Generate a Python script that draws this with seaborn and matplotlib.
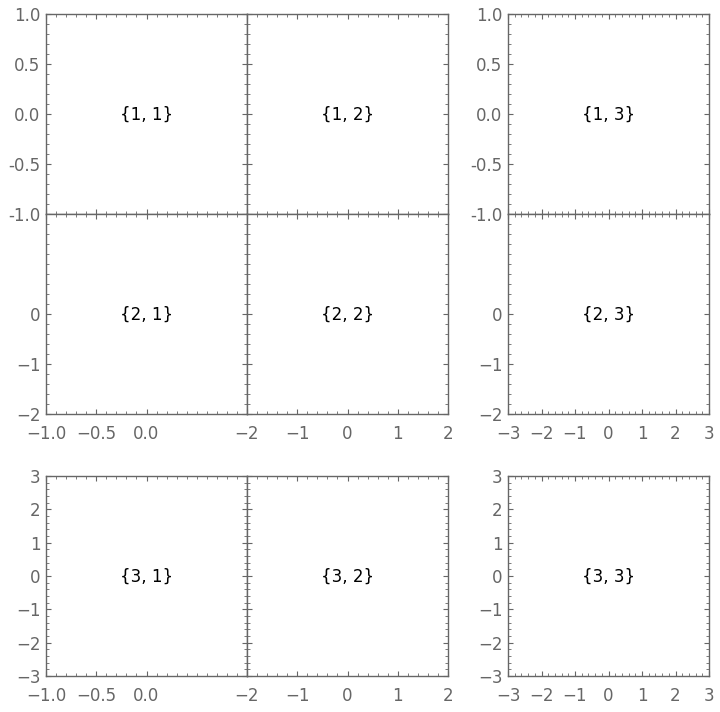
import matplotlib
matplotlib.use("Agg")
import matplotlib.pyplot as plt
import seaborn as sns
import numpy as np
from matplotlib.ticker import MultipleLocator, FixedLocator, FixedFormatter

sns.set_theme(style="ticks")
plt.rcParams['font.family'] = ['DejaVu Sans']

# Data
col_xlims = [(-1, 1), (-2, 2), (-3, 3)]
row_ylims = [(-1, 1), (-2, 2), (-3, 3)]
col_xticks = [[-1.0, -0.5, 0.0], [-2, -1, 0, 1, 2], [-3, -2, -1, 0, 1, 2, 3]]
col_xticklabels = [["\u22121.0", "\u22120.5", "0.0"],
                   ["\u22122", "\u22121", "0", "1", "2"],
                   ["\u22123", "\u22122", "\u22121", "0", "1", "2", "3"]]
row_yticks = [[1.0, 0.5, 0.0, -0.5, -1.0], [0, -1, -2], [3, 2, 1, 0, -1, -2, -3]]
row_yticklabels = [["1.0", "0.5", "0.0", "-0.5", "-1.0"],
                   ["0", "\u22121", "\u22122"],
                   ["3", "2", "1", "0", "\u22121", "\u22122", "\u22123"]]
col_xminor = [0.1, 0.2, 0.2]
row_yminor = [0.1, 0.2, 0.2]
panel_labels = [["{1, 1}", "{1, 2}", "{1, 3}"],
                ["{2, 1}", "{2, 2}", "{2, 3}"],
                ["{3, 1}", "{3, 2}", "{3, 3}"]]

W, H = 720, 712
fig = plt.figure(figsize=(W / 100, H / 100), dpi=100)

col_px = [(46, 247), (247, 448), (508, 709)]
row_px = [(14, 214), (214, 414), (476, 676)]

gray = "#666666"
for r in range(3):
    for c in range(3):
        x0, x1 = col_px[c]
        y0, y1 = row_px[r]
        ax = fig.add_axes([x0 / W, 1 - y1 / H, (x1 - x0) / W, (y1 - y0) / H])
        ax.set_xlim(*col_xlims[c])
        ax.set_ylim(*row_ylims[r])
        for s in ax.spines.values():
            s.set_color(gray)
            s.set_linewidth(1.0)
        ax.xaxis.set_major_locator(FixedLocator(col_xticks[c]))
        ax.yaxis.set_major_locator(FixedLocator(row_yticks[r]))
        ax.xaxis.set_minor_locator(MultipleLocator(col_xminor[c]))
        ax.yaxis.set_minor_locator(MultipleLocator(row_yminor[r]))
        if r in (1, 2):
            ax.xaxis.set_major_formatter(FixedFormatter(col_xticklabels[c]))
        else:
            ax.set_xticklabels([])
        if c in (0, 2):
            ax.yaxis.set_major_formatter(FixedFormatter(row_yticklabels[r]))
        else:
            ax.set_yticklabels([])
        ax.tick_params(which="both", direction="in", top=True, right=True,
                       color=gray, labelcolor=gray, labelsize=12)
        ax.tick_params(axis="x", which="both", pad=8)
        ax.tick_params(axis="y", which="both", pad=4)
        ax.tick_params(which="major", length=3.5, width=0.8)
        ax.tick_params(which="minor", length=2, width=0.6)
        ax.set_facecolor("white")
        ax.text(0.5, 0.495, panel_labels[r][c], transform=ax.transAxes,
                ha="center", va="center", fontsize=12, color="black")

fig.savefig("out.png", dpi=100, facecolor="white")
